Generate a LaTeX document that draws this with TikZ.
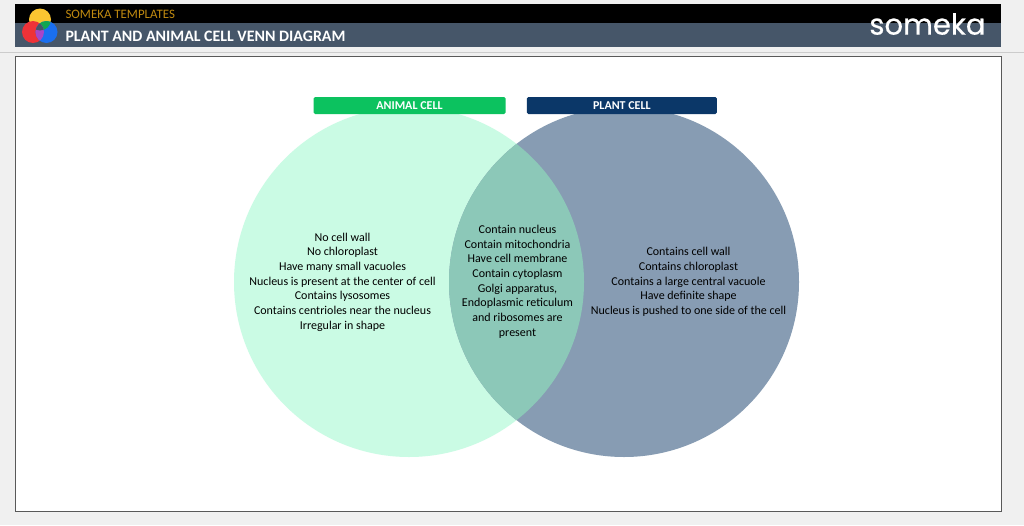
\documentclass[tikz,border=0pt]{standalone}
\usepackage{fontspec}
\setmainfont{Carlito}
\newfontfamily\brandfont[FakeBold=0.6]{Poppins}
\usetikzlibrary{positioning}
\definecolor{pagegray}{HTML}{F0F0F0}
\definecolor{slate}{HTML}{465669}
\definecolor{amber}{HTML}{C08A10}
\definecolor{logoyellow}{HTML}{FBC531}
\definecolor{logored}{HTML}{EE3238}
\definecolor{logoblue}{HTML}{1A6FF0}
\definecolor{logogreen}{HTML}{12A650}
\definecolor{logopurple}{HTML}{A845C8}
\definecolor{animalgreen}{HTML}{0CC25F}
\definecolor{plantblue}{HTML}{0B3768}
\definecolor{animalfill}{HTML}{CAFBE4}
\definecolor{plantfill}{HTML}{879CB3}
\definecolor{bothfill}{HTML}{8CC8B8}
\tikzset{
  celllabel/.style={rounded corners=1.5pt, minimum height=17pt, inner sep=0pt,
    text=white, font=\fontsize{12}{13}\selectfont\bfseries},
  celltext/.style={align=center, inner sep=0pt, text=black, font=\fontsize{12}{14.67}\selectfont},
}
\begin{document}
\begin{tikzpicture}[x=1pt, y=-1pt]
      \useasboundingbox (0,0) rectangle (1024,525);
      \fill[pagegray] (0,0) rectangle (1024,525);

      % header
      \fill[black] (15,4) rectangle (1001,23);
      \fill[slate] (15,23) rectangle (1001,47);
      \draw[black!20, line width=1pt] (0,52) -- (1024,52);
      \draw[black!65, fill=white, line width=0.8pt] (15.5,56.5) rectangle (1001,511);

      % logo
      \fill[logoyellow] (40,19.5) circle (11);
      \fill[logored] (33,32) circle (11);
      \fill[logoblue] (46.5,32) circle (11);
      \begin{scope}
        \clip (46.5,32) circle (11);
        \fill[logogreen] (40,19.5) circle (11);
        \fill[logopurple] (33,32) circle (11);
        \clip (33,32) circle (11);
        \fill[slate] (40,19.5) circle (11);
      \end{scope}

      \node (templates) [anchor=west, text=amber, font=\fontsize{12.9}{14}\selectfont] at (62,14) {SOMEKA TEMPLATES};
      \node (title) [anchor=west, text=white, font=\fontsize{15.9}{17}\selectfont\bfseries] at (62,36) {PLANT AND ANIMAL CELL VENN DIAGRAM};
      \node (brand) [anchor=east, text=white, font=\fontsize{29}{29}\brandfont] at (989,24) {someka};

      % circles
      \fill[animalfill] (409,282) circle (175);
      \fill[plantfill] (624,282) circle (175);
      \begin{scope}
        \clip (409,282) circle (175);
        \fill[bothfill] (624,282) circle (175);
      \end{scope}

      \node (animal) [celllabel, fill=animalgreen, minimum width=192pt] at (409.5,105.5) {ANIMAL CELL};
      \node (plant) [celllabel, fill=plantblue, minimum width=190pt, right=21pt of animal] {PLANT CELL};

      \node (animaltext) [celltext] at (342.5,282) {No cell wall\\No chloroplast\\Have many small vacuoles\\Nucleus is present at the center of cell\\Contains lysosomes\\Contains centrioles near the nucleus\\Irregular in shape};
      \node (bothtext) [celltext] at (517.5,281.5) {Contain nucleus\\Contain mitochondria\\Have cell membrane\\Contain cytoplasm\\Golgi apparatus,\\Endoplasmic reticulum\\and ribosomes are\\present};
      \node (planttext) [celltext] at (688.5,282) {Contains cell wall\\Contains chloroplast\\Contains a large central vacuole\\Have definite shape\\Nucleus is pushed to one side of the cell};
\end{tikzpicture}
\end{document}
